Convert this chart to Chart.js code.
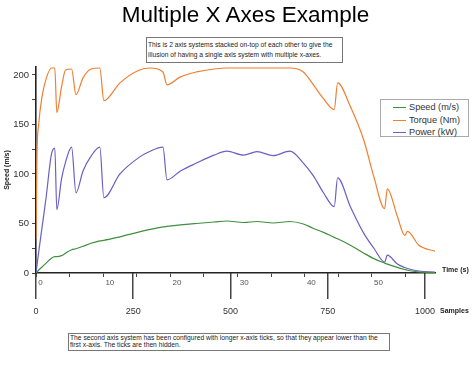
<!DOCTYPE html>
<html>
<head>
<meta charset="utf-8">
<script src="https://cdn.jsdelivr.net/npm/chart.js@4/dist/chart.umd.min.js"></script>
<style>
  body { margin: 0; background: #fff; font-family: 'Liberation Sans', Arial, sans-serif; }
  #wrap { position: relative; width: 474px; height: 366px; overflow: hidden; }
  #myChart { position: absolute; left: 0; top: 0; }
  .title { position: absolute; left: 0; width: 491px; top: 4px; text-align: center;
           font-size: 22.5px; line-height: 22.5px; color: #000; }
  .note { position: absolute; border: 1px solid #777; background: #fff; color: #222;
          font-size: 6.7px; white-space: nowrap; box-sizing: border-box; padding-left: 1px; }
  #legend { position: absolute; left: 380px; top: 99px; width: 89px; height: 38px;
            border: 1px solid #aaa; background: #fff; box-sizing: border-box; padding-top: 1px; }
  .lg { height: 12.5px; line-height: 12.5px; font-size: 9.2px; color: #333; white-space: nowrap; }
  .lg span.ln { display: inline-block; width: 13px; height: 1px; vertical-align: middle;
                margin: 0 3px 0 12px; }
</style>
</head>
<body>
<div id="wrap">
  <canvas id="myChart" width="474" height="366"></canvas>
  <div class="title">Multiple X Axes Example</div>
  <div class="note" style="left:146px;top:37px;width:197px;height:26px;line-height:10px;padding-top:2px;">This is 2 axis systems stacked on-top of each other to give the<br>illusion of having a single axis system with multiple x-axes.</div>
  <div class="note" style="left:68px;top:333px;width:322px;height:18px;line-height:6.8px;padding-top:1px;">The second axis system has been configured with longer x-axis ticks, so that they appear lower than the<br>first x-axis. The ticks are then hidden.</div>
  <div id="legend"></div>
</div>
<script>
// time in seconds (shared by all three series)
var times = [0, 0.15, 0.4, 0.9, 1.5, 2.3, 2.8, 3.1, 3.8, 4.4, 5.3, 5.95, 7, 8.2, 9.5, 10.1,
    12.5, 15.4, 17, 18.9, 19.5, 21.5, 23.9, 26.5, 28.4, 30.9, 32.9, 35.3, 37.8, 39.8,
    41.3, 42.8, 44.4, 44.9, 46.8, 48.8, 50.3, 51.9, 52.3, 53.8, 54.9, 55.3, 57, 59.4];

var speed = [0, 1, 3, 6, 10, 15, 16.5, 16.5, 17.5, 20, 23.5, 24.5, 27, 30, 32.5, 33,
    36.5, 41.5, 44, 46.5, 47, 48.5, 50, 51.5, 52.5, 51, 52, 50.5, 52, 49.5,
    45, 41, 36, 34.5, 28, 20, 14.5, 10, 9, 5.7, 3.5, 2.8, 1, 0.3];

var torque = [35, 120, 150, 178, 196, 207, 207, 162, 188, 205, 206, 180, 197, 206, 207, 174,
    192, 205, 207, 203, 190, 198, 203, 206, 207, 207, 207, 207, 207, 203,
    190, 176, 165, 192, 168, 134, 97, 65, 85, 57, 38, 42, 28, 22];

var power = [0, 8, 21, 46, 76, 120, 126, 64, 95, 112, 127, 81, 103, 118, 127, 76,
    100, 117, 123, 127, 94, 103, 111, 119, 123, 119, 122.5, 118.5, 123, 111,
    98, 81, 67, 96, 67, 40, 25, 11, 18, 9, 5.5, 4.5, 2, 1];

var seriesNames = ['Speed (m/s)', 'Torque (Nm)', 'Power (kW)'];
var seriesColors = ['#3f8f3f', '#f07f30', '#6b5fc2'];

// tick values for the second (samples) axis
var sampleTicks = [0, 250, 500, 750, 1000];

// axis settings
var timeMax = 59.4;
var samplesMax = 1026;
var yMax = 208;

function pts(vals) {
    return times.map(function (t, i) { return { x: t, y: vals[i] }; });
}

var fontFam = "'Liberation Sans', Arial, sans-serif";

// move the samples axis up so its long ticks start at the first x-axis line,
// then write the axis names at the right-hand ends
var stackAxes = {
    id: 'stackAxes',
    afterLayout: function (chart) {
        var s2 = chart.scales.x2;
        s2.top = chart.chartArea.bottom;
        s2.bottom = chart.height;
    },
    afterDraw: function (chart) {
        var c = chart.ctx;
        var sx = chart.scales.x, s2 = chart.scales.x2;
        c.save();
        c.fillStyle = '#222';
        c.font = 'bold 7px ' + fontFam;
        c.textBaseline = 'middle';
        c.textAlign = 'left';
        c.fillText('Time (s)', sx.right + 7, sx.top - 3);
        c.fillText('Samples', s2.right + 5, s2.top + 38);
        c.restore();
    }
};

var ctx = document.getElementById('myChart').getContext('2d');
var myChart = new Chart(ctx, {
    type: 'scatter',
    data: {
        datasets: [0, 1, 2].map(function (k) {
            return {
                label: seriesNames[k],
                data: pts([speed, torque, power][k]),
                showLine: true,
                borderColor: seriesColors[k],
                backgroundColor: seriesColors[k],
                borderWidth: 1.2,
                pointRadius: 0,
                cubicInterpolationMode: 'monotone',
                xAxisID: 'x',
                yAxisID: 'y'
            };
        })
    },
    options: {
        responsive: false,
        animation: false,
        layout: { padding: { top: 67, right: 39, left: 0, bottom: 0 } },
        plugins: { legend: { display: false }, tooltip: { enabled: false } },
        scales: {
            x: {
                type: 'linear', position: 'bottom', min: 0, max: timeMax,
                afterFit: function (s) { s.height = 14; },
                border: { display: true, color: '#222', width: 1.6 },
                grid: { drawOnChartArea: false, tickLength: 4, color: '#444' },
                ticks: {
                    stepSize: 5, includeBounds: false, autoSkip: false, maxRotation: 0,
                    align: 'start', padding: 1, color: '#555',
                    font: { size: 8, family: fontFam },
                    callback: function (v) { return v % 10 === 0 ? ' ' + v : ''; }
                }
            },
            x2: {
                type: 'linear', position: 'bottom', min: 0, max: samplesMax,
                afterFit: function (s) { s.height = 79; },
                afterBuildTicks: function (s) {
                    s.ticks = sampleTicks.map(function (v) { return { value: v }; });
                },
                border: { display: false },
                grid: { drawOnChartArea: false, tickLength: 26, color: '#444', lineWidth: 1.5 },
                ticks: {
                    autoSkip: false, maxRotation: 0,
                    padding: 7, color: '#333', font: { size: 9, family: fontFam },
                    callback: function (v) { return String(v); }
                }
            },
            y: {
                type: 'linear', min: 0, max: yMax,
                afterFit: function (s) { s.width = 36; },
                border: { display: true, color: '#222', width: 1.6 },
                grid: { drawOnChartArea: false, tickLength: 4, color: '#444' },
                title: {
                    display: true, text: 'Speed (m/s)', color: '#222',
                    font: { size: 7, weight: 'bold', family: fontFam }, padding: 3
                },
                ticks: {
                    stepSize: 25, includeBounds: false, padding: 3, color: '#333',
                    font: { size: 9.5, family: fontFam },
                    callback: function (v) { return v % 50 === 0 ? v : ''; }
                }
            }
        }
    },
    plugins: [stackAxes]
});

// legend built from the chart's datasets
var lg = document.getElementById('legend');
myChart.data.datasets.forEach(function (d) {
    var row = document.createElement('div');
    row.className = 'lg';
    row.innerHTML = '<span class="ln" style="background:' + d.borderColor + '"></span>' + d.label;
    lg.appendChild(row);
});
</script>
</body>
</html>
